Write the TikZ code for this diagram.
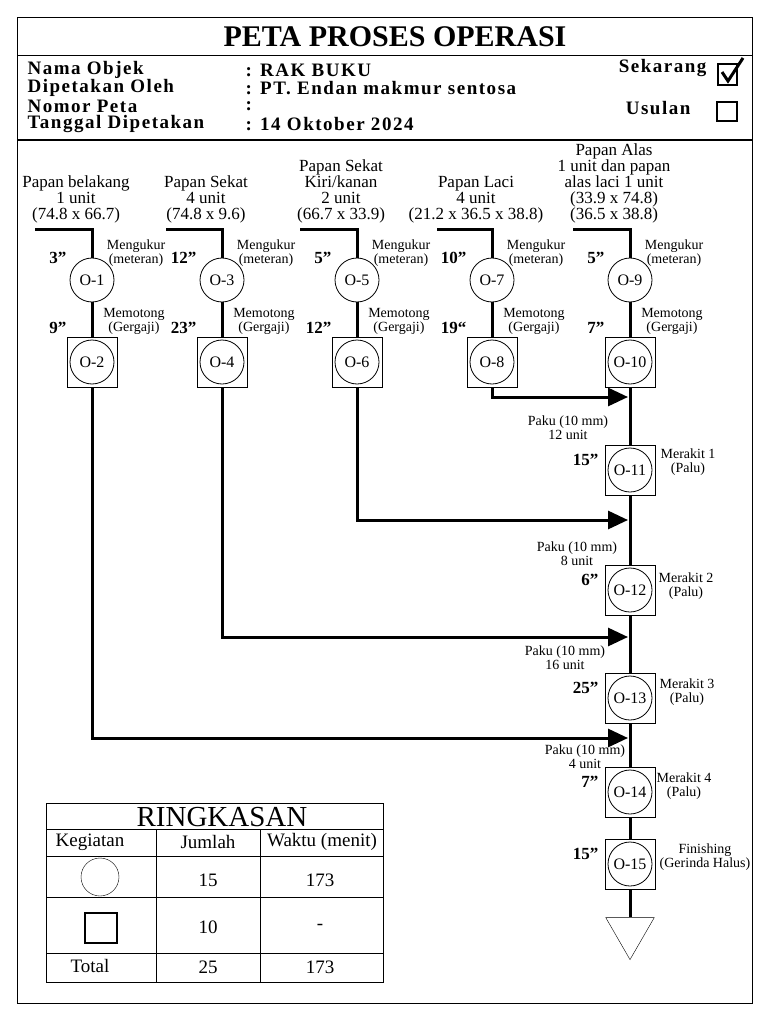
\documentclass[tikz,border=0pt]{standalone}
\usepackage{fontspec}
\setmainfont{Liberation Serif}
\usetikzlibrary{arrows.meta,shapes.geometric}
\newcommand\dq{\symbol{34}}
\tikzset{
  opc/.style={circle,draw,thick,minimum size=44pt,inner sep=0pt,font=\fontsize{16}{16}\selectfont},
  opb/.style={rectangle,draw,semithick,minimum size=50pt,inner sep=0pt},
  flow/.style={line width=3pt},
  merge/.style={line width=3pt,-{Triangle[length=20pt,width=18pt]}},
  lbl/.style={font=\fontsize{14}{14}\selectfont,align=center},
  src/.style={font=\fontsize{17}{16}\selectfont,align=center},
  tm/.style={font=\bfseries\fontsize{17}{17}\selectfont},
  tb/.style={font=\fontsize{19}{19}\selectfont},
  hd/.style={font=\bfseries\fontsize{19}{18}\selectfont\addfontfeatures{LetterSpace=8},anchor=west},
}
\begin{document}
\begin{tikzpicture}[x=1pt,y=-1pt]
  \useasboundingbox (0,0) rectangle (768,1024);
  % frame and header
  \draw[thick] (17,17) rectangle (752,1003);
  \draw[thick] (17,55) -- (752,55);
  \draw[line width=2pt] (17,140) -- (752,140);
  \node[font=\bfseries\fontsize{30}{30}\selectfont] (title) at (395,37) {PETA PROSES OPERASI};
  \node[hd] (n1) at (24,70) {Nama Objek};
  \node[hd] (n2) at (24,88) {Dipetakan Oleh};
  \node[hd] (n3) at (24,106) {Nomor Peta};
  \node[hd] (n4) at (24,124) {Tanggal Dipetakan};
  \node[hd] (v1) at (242,70) {: RAK BUKU};
  \node[hd] (v2) at (242,88) {: PT. Endan makmur sentosa};
  \node[hd] (v3) at (242,106) {:};
  \node[hd] (v4) at (242,124) {: 14 Oktober 2024};
  \node[hd,anchor=east] (sk) at (710,68) {Sekarang};
  \node[hd,anchor=east] (us) at (694,108) {Usulan};
  \draw[line width=2.5pt] (718,64) rectangle (737,85);
  \draw[line width=3pt] (722,72) -- (728,81) -- (743,58);
  \draw[line width=2.5pt] (717,102) rectangle (737,121);

  % material columns
  \foreach \x/\s/\a/\b/\ta/\tb/\txt in {
      92/35/1/2/3\dq/9\dq/{Papan belakang\\1 unit\\(74.8 x 66.7)},
      222/166/3/4/12\dq/23\dq/{Papan Sekat\\4 unit\\(74.8 x 9.6)},
      357/300/5/6/5\dq/12\dq/{Papan Sekat\\Kiri/kanan\\2 unit\\(66.7 x 33.9)},
      492/437/7/8/10\dq/19``/{Papan Laci\\4 unit\\(21.2 x 36.5 x 38.8)},
      630/573/9/10/5\dq/7\dq/{Papan Alas\\1 unit dan papan\\alas laci 1 unit\\(33.9 x 74.8)\\(36.5 x 38.8)}} {
    \node[src,anchor=south] (s\a) at (\x-16,227) {\txt};
    \coordinate (c\a) at (\s,230);
    \coordinate (k\a) at (\x,230);
    \node[opc,fill=white] (o\a) at (\x,280) {O-\a};
    \node[opb] (q\b) at (\x,362) {};
    \node[opc] (o\b) at (\x,362) {O-\b};
    \draw[flow] (c\a) -- (k\a) -- (o\a);
    \draw[flow] (o\a) -- (q\b);
    \node[tm,anchor=east] (t\a) at (\x-22,258) {\ta};
    \node[tm,anchor=east] (t\b) at (\x-22,328) {\tb};
    \node[lbl] (m\a) at (\x+44,253) {Mengukur\\(meteran)};
    \node[lbl] (m\b) at (\x+42,321) {Memotong\\(Gergaji)};
  }

  % assembly line
  \foreach \n/\y/\t in {11/470/15\dq,12/590/6\dq,13/698/25\dq,14/792/7\dq,15/864/15\dq} {
    \node[opb] (q\n) at (630,\y) {};
    \node[opc] (o\n) at (630,\y) {O-\n};
    \node[tm,anchor=east] (t\n) at (602,\y-10) {\t};
  }
  \node[lbl] (m11) at (688,462) {Merakit 1\\(Palu)};
  \node[lbl] (m12) at (686,586) {Merakit 2\\(Palu)};
  \node[lbl] (m13) at (687,692) {Merakit 3\\(Palu)};
  \node[lbl] (m14) at (684,786) {Merakit 4\\(Palu)};
  \node[lbl] (m15) at (705,857) {Finishing\\(Gerinda Halus)};
  \node[draw,thin,isosceles triangle,shape border rotate=-90,isosceles triangle apex angle=60,
        minimum height=42pt,inner sep=0pt,anchor=apex] (end) at (630,960) {};
  \draw[flow] (q10) -- (q11);
  \draw[flow] (q11) -- (q12);
  \draw[flow] (q12) -- (q13);
  \draw[flow] (q13) -- (q14);
  \draw[flow] (q14) -- (q15);
  \draw[flow] (q15) -- (end.north);

  % joins
  \coordinate (j8) at (628,397);
  \coordinate (j6) at (628,520);
  \coordinate (j4) at (628,637);
  \coordinate (j2) at (628,738);
  \draw[merge] (q8) |- (j8);
  \draw[merge] (q6) |- (j6);
  \draw[merge] (q4) |- (j4);
  \draw[merge] (q2) |- (j2);
  \node[lbl] (p1) at (568,428) {Paku (10 mm)\\12 unit};
  \node[lbl] (p2) at (577,554) {Paku (10 mm)\\8 unit};
  \node[lbl] (p3) at (565,658) {Paku (10 mm)\\16 unit};
  \node[lbl] (p4) at (585,757) {Paku (10 mm)\\4 unit};

  % summary table
  \draw[thick] (46,803) rectangle (383,982);
  \foreach \y in {829,856,897,953} \draw[thick] (46,\y) -- (383,\y);
  \draw[thick] (156,829) -- (156,982);
  \draw[thick] (260,829) -- (260,982);
  \node[font=\fontsize{29}{29}\selectfont] (rk) at (222,817) {RINGKASAN};
  \foreach \x/\t in {90/Kegiatan,208/Jumlah,322/Waktu (menit)}
    \node[tb] at (\x,842) {\t};
  \node[circle,draw,thin,minimum size=38pt] (sc) at (100,877) {};
  \node[rectangle,draw,line width=1.5pt,minimum width=32pt,minimum height=30pt] (sq) at (101,928) {};
  \foreach \x/\a/\b/\c in {208/15/10/25,320/173/-/173} {
    \node[tb] at (\x,880) {\a};
    \node[tb] at (\x,927) {\b};
    \node[tb] at (\x,967) {\c};
  }
  \node[tb] (tot) at (90,966) {Total};
\end{tikzpicture}
\end{document}
